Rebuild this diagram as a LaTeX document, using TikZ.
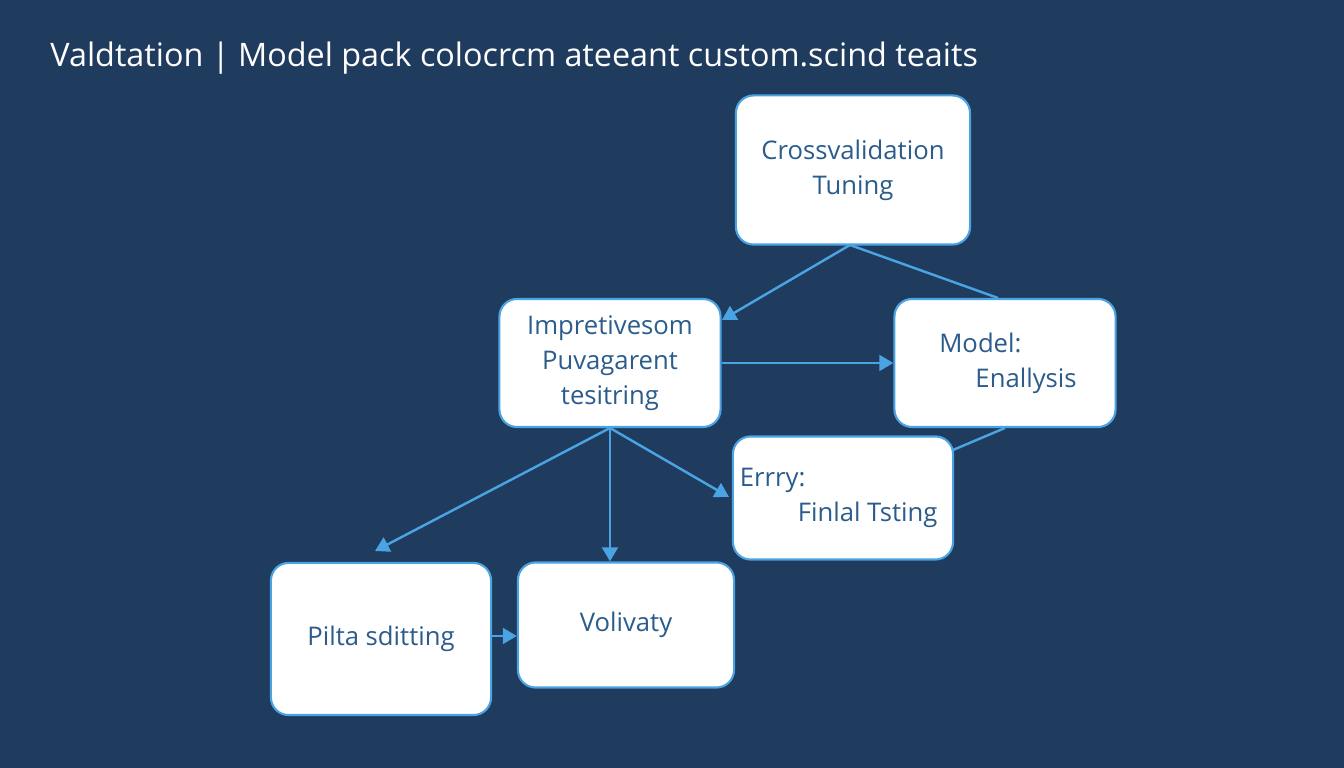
\documentclass[tikz,border=0pt]{standalone}
\usepackage{fontspec}
\setmainfont{Open Sans}
\usepackage{xcolor}
\definecolor{navy}{HTML}{1F3B5E}
\definecolor{boxtext}{HTML}{2B5C8C}
\definecolor{wire}{HTML}{4AA3E2}
\usetikzlibrary{arrows.meta}
\tikzset{
  stepbox/.style={draw=wire, line width=0.6pt, fill=white, rounded corners=5pt,
    text=boxtext, align=center, inner sep=0pt, font=\fontsize{7.3}{10}\selectfont},
  link/.style={wire, line width=0.7pt},
  linkarrow/.style={link, -{Triangle[length=4pt,width=4.5pt]}}
}
\begin{document}
\begin{tikzpicture}[x=0.01cm,y=-0.01cm]

    % fondo
    \fill[navy] (0,0) rectangle (1344,768);

    % titulo
    \node[anchor=west, text=white, font=\fontsize{9.2}{11}\selectfont] (title) at (38,58)
      {Valdtation | Model pack colocrcm ateeant custom.scind teaits};

    % cajas
    \node[stepbox, minimum width=2.34cm, minimum height=1.49cm] (cross) at (853,170) {Crossvalidation\\Tuning};
    \node[stepbox, minimum width=2.21cm, minimum height=1.28cm] (impr) at (610,363) {Impretivesom\\Puvagarent\\tesitring};
    \node[stepbox, minimum width=2.21cm, minimum height=1.28cm] (model) at (1005,363) {Model:\hspace*{14pt}\\\hspace*{12pt}Enallysis};
    \node[stepbox, minimum width=2.20cm, minimum height=1.23cm] (err) at (843,498) {Errry:\hspace*{40pt}\\\hspace*{14pt}Finlal Tsting};
    \node[stepbox, minimum width=2.20cm, minimum height=1.52cm] (pilta) at (381,639) {Pilta sditting};
    \node[stepbox, minimum width=2.16cm, minimum height=1.25cm] (voli) at (626,625) {Volivaty};

    % conexiones
    \coordinate (cb) at (850,245);
    \coordinate (ib) at (610,428);
    \draw[linkarrow] (cb) -- (722,320);
    \draw[link] (cb) -- (998,298);
    \draw[linkarrow] (impr.east) -- (model.west);
    \draw[link] (1005,428) -- (953,450);
    \draw[linkarrow] (ib) -- (375,551);
    \draw[linkarrow] (ib) -- (voli.north -| ib);
    \draw[linkarrow] (ib) -- (729,497);
    \draw[linkarrow] (pilta.east |- 0,636) -- (voli.west |- 0,636);

\end{tikzpicture}
\end{document}
